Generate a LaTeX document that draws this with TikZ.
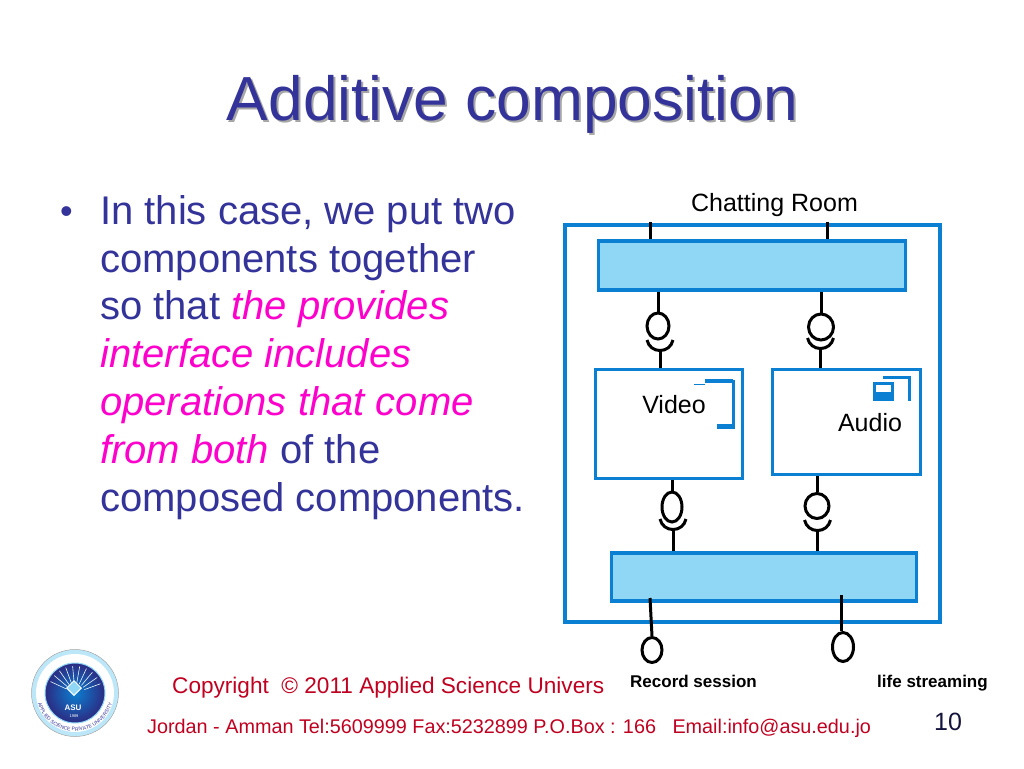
\documentclass[tikz,border=0pt]{standalone}
\usepackage{fontspec}
\setmainfont{Liberation Sans}
\usepackage{tikz}
\usetikzlibrary{calc, shapes.geometric, decorations.text}
\definecolor{asublue}{HTML}{0B7FD1}
\definecolor{asufill}{HTML}{8FD7F5}
\definecolor{asutitle}{HTML}{333399}
\definecolor{asured}{HTML}{C00020}
\definecolor{asupink}{HTML}{FF00CC}
\tikzstyle{bar} = [rectangle, draw=asublue, line width=3.2pt, fill=asufill, inner sep=0pt]
\tikzstyle{comp} = [rectangle, draw=asublue, line width=3pt, fill=white, inner sep=0pt]
\tikzstyle{ball} = [ellipse, draw=black, line width=3pt, fill=white, inner sep=0pt]
\tikzstyle{wire} = [draw=black, line width=3pt]
\tikzstyle{label} = [inner sep=0pt, text=black]
\tikzstyle{foot} = [inner sep=0pt, anchor=base west, text=asured]
\newcommand{\socket}[1]{\draw[wire] ($(#1)+(-13,-12)$) .. controls ($(#1)+(-10,2)$) and ($(#1)+(10,2)$) .. ($(#1)+(13,-12)$);}
\begin{document}
\begin{tikzpicture}[x=1pt, y=-1pt]
\useasboundingbox (0,0) rectangle (1024,768);
% title
\node [inner sep=0pt, text=black!35, font=\fontsize{62.3}{70}\selectfont] (titleback) at (514.5,106.5) {Additive composition};
\node [inner sep=0pt, text=asutitle, font=\fontsize{62.3}{70}\selectfont] (title) at (512.5,104) {Additive composition};
% left text
\node [inner sep=0pt, anchor=base west, text=asutitle, font=\fontsize{36}{48}\selectfont] (dot) at (60,223) {•};
\node [inner sep=0pt, anchor=north west, align=left, text=asutitle, font=\fontsize{40}{47.9}\selectfont] (body) at (100,195) {In this case, we put two\\
components together\\
so that {\color{asupink}\itshape the provides}\\
{\color{asupink}\itshape interface includes}\\
{\color{asupink}\itshape operations that come}\\
{\color{asupink}\itshape from both} of the\\
composed components.};
% outer component
\node [rectangle, draw=asublue, line width=4pt, minimum width=375pt, minimum height=397pt, inner sep=0pt] (room) at (752.5,423.5) {};
\node [label, font=\fontsize{25}{30}\selectfont] (roomlabel) at (774.5,205) {Chatting Room};
% bars
\node [bar, minimum width=307pt, minimum height=49pt] (topbar) at (752,265.5) {};
\node [bar, minimum width=305pt, minimum height=48pt] (lowbar) at (764,577) {};
% inner components
\node [comp, minimum width=147pt, minimum height=109pt] (video) at (668.5,423.5) {};
\node [comp, minimum width=148pt, minimum height=105pt] (audio) at (846,421.5) {};
\node [label, font=\fontsize{25}{30}\selectfont] (videolabel) at (674,405) {Video};
\node [label, font=\fontsize{25}{30}\selectfont] (audiolabel) at (870,423) {Audio};
% small icons
\draw [draw=asublue, line width=3pt] (705,381) -- (733,381) -- (733,427) -- (717,427);
\draw [draw=asublue, line width=1pt] (694,384) -- (705,384);
\fill [asublue] (705,379) rectangle (733,383);
\fill [asublue] (717,424) rectangle (733,428);
\draw [draw=asublue, line width=3pt] (874,383) rectangle (892,399);
\fill [asublue] (874,392) rectangle (893,400);
\draw [draw=asublue, line width=3pt] (883,377) -- (909,377) -- (909,401);
% balls
\node [ball, minimum width=22pt, minimum height=26pt] (ballA) at (658,326) {};
\node [ball, minimum width=25pt, minimum height=26pt] (ballB) at (821,327) {};
\node [ball, minimum width=20pt, minimum height=30pt] (ballC) at (672,507) {};
\node [ball, minimum width=24pt, minimum height=25pt] (ballD) at (817,506) {};
\node [ball, minimum width=20pt, minimum height=25pt] (ballE) at (652,650) {};
\node [ball, minimum width=21pt, minimum height=29pt] (ballF) at (843,647) {};
% wires
\coordinate (topA) at (650.5,222);
\coordinate (topB) at (827.5,222);
\coordinate (sockA) at (660,352);
\coordinate (sockB) at (820.5,350);
\coordinate (sockC) at (673,531);
\coordinate (sockD) at (817.5,532);
\coordinate (wireE) at (650,598);
\coordinate (wireF) at (841,595);
\draw [wire] (topA) -- (topA |- topbar.north);
\draw [wire] (topB) -- (topB |- topbar.north);
\draw [wire] (ballA |- topbar.south) -- (ballA.north);
\draw [wire] (ballB |- topbar.south) -- (ballB.north);
\draw [wire] (sockA) -- (sockA |- video.north);
\draw [wire] (sockB) -- (sockB |- audio.north);
\draw [wire] (ballC.north) -- (ballC.north |- video.south);
\draw [wire] (ballD.north) -- (ballD.north |- audio.south);
\draw [wire] (sockC) -- (sockC |- lowbar.north);
\draw [wire] (sockD) -- (sockD |- lowbar.north);
\draw [wire] (wireE) -- (ballE.north);
\draw [wire] (wireF) -- (wireF |- ballF.north);
\socket{sockA}
\socket{sockB}
\socket{sockC}
\socket{sockD}
\node [label, anchor=base, font=\bfseries\fontsize{17}{20}\selectfont] (record) at (693.5,687) {Record session};
\node [label, anchor=base, font=\bfseries\fontsize{17}{20}\selectfont] (life) at (932.5,687) {life streaming};
% footer
\node [foot, font=\fontsize{22.6}{26}\selectfont] (copy) at (172,693.5) {Copyright\ \ © 2011 Applied Science Univers};
\node [foot, font=\fontsize{19.8}{24}\selectfont] (addr) at (147,733) {Jordan - Amman Tel:5609999 Fax:5232899 P.O.Box : 166\ \ \ Email:info@asu.edu.jo};
\node [inner sep=0pt, text=asutitle!40!black, font=\fontsize{25}{30}\selectfont] (page) at (948,722) {10};
% logo
\node [circle, draw=black!35, line width=0.5pt, fill=asufill!60!white, minimum size=87pt, inner sep=0pt] (logo) at (75,693) {};
\node [circle, fill=white, minimum size=78pt, inner sep=0pt] (logoring) at (logo) {};
\node [circle, draw=asufill, line width=1pt, inner color=asublue, outer color=asutitle!85!black, minimum size=60pt, inner sep=0pt] (logodisc) at (logo) {};
\foreach \a in {20,35,...,160} {
  \draw [white!80!asufill, line width=0.6pt] (logo) ++(\a:10pt) -- ++(\a:17pt);
}
\node [diamond, draw=white, fill=asufill, line width=1pt, minimum size=15pt, inner sep=0pt] (logomark) at (74,688) {};
\node [inner sep=0pt, text=white, font=\bfseries\fontsize{8}{9}\selectfont] (logoname) at (73,708) {ASU};
\node [inner sep=0pt, text=white, font=\fontsize{4}{5}\selectfont] (logoyear) at (74,716) {1989};
\path [decorate, decoration={text along path, text align=center,
  text={|\fontsize{5}{6}\selectfont\color{asutitle}|APPLIED SCIENCE PRIVATE UNIVERSITY}}]
  (38,704) .. controls (50,740) and (100,740) .. (112,704);
\end{tikzpicture}
\end{document}
